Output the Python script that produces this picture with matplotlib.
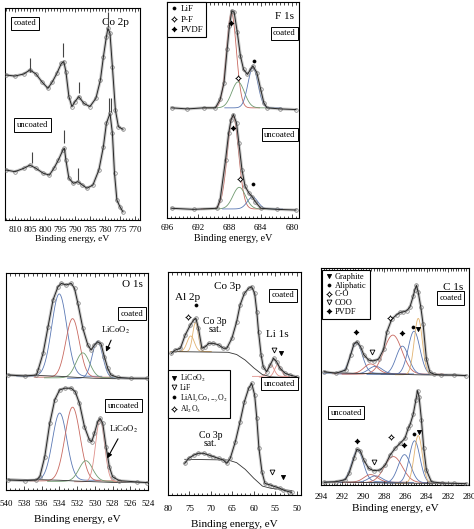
import numpy as np
import matplotlib
matplotlib.use('Agg')
import matplotlib.pyplot as plt
from matplotlib.lines import Line2D
from matplotlib.ticker import MultipleLocator, FormatStrFormatter

plt.rcParams['font.family'] = ['Liberation Serif', 'DejaVu Sans']
plt.rcParams['mathtext.fontset'] = 'stix'

# ---------------- data (intensity in a.u., 0-100 per panel) ----------------
# Co 2p
co2p_e_coated = [813, 810, 807, 805, 803, 801, 799, 797.5, 796, 794.5, 793.7, 793, 792, 791, 790,
                 788.7, 787, 785, 783, 781.5, 780.5, 779.5, 779, 778.3, 777.5, 776.5, 775.5, 774]
co2p_i_coated = [68.4, 67.9, 68.9, 70.8, 68.9, 65.2, 62.1, 65.2, 69.2, 73.9, 74.7, 70.0, 58.2, 53.5, 55.8,
                 58.2, 55.0, 53.5, 57.4, 66.0, 77.0, 86.5, 90.4, 88.0, 72.3, 51.9, 44.0, 42.8]
co2p_e_unc = [813, 810, 807, 805, 803, 800.5, 798.5, 797, 795.5, 794, 793.5, 793, 792, 790.5, 789,
              787.5, 786, 784, 782, 780.5, 779.5, 778.3, 777.5, 776.8, 776, 775, 774]
co2p_i_unc = [23.6, 22.8, 24.4, 25.9, 24.4, 22.0, 21.2, 24.4, 28.3, 33.0, 33.8, 28.3, 19.7, 17.3, 18.1,
              16.5, 15.0, 16.5, 23.6, 34.6, 45.6, 50.3, 40.9, 22.0, 9.4, 6.3, 3.9]
co2p_mark_e_coated = [805, 794.1, 788.7, 778.9]
co2p_mark_lo_coated = [70.0, 77.0, 59.8, 91.2]
co2p_mark_hi_coated = [76.3, 83.6, 65.2, 98.3]
co2p_mark_e_unc = [804.4, 793.6, 789.1, 778.6, 777.9]
co2p_mark_lo_unc = [26.7, 36.2, 18.9, 51.1, 51.1]
co2p_mark_hi_unc = [32.2, 42.5, 24.4, 57.4, 57.4]

# F 1s
f1s_e_coated = [695.4, 693.4, 691.3, 689.8, 689.2, 688.7, 688.3, 688.0, 687.7, 687.4, 687.0, 686.6,
                686.2, 685.7, 685.3, 685.0, 684.5, 684.0, 683.6, 683.2, 681.5, 679.5]
f1s_i_coated = [51.0, 50.5, 51.0, 51.0, 54.9, 62.6, 78.1, 89.0, 96.0, 95.2, 85.9, 75.0,
                68.8, 66.5, 68.8, 70.4, 67.3, 59.5, 53.3, 51.0, 50.5, 50.2]
f1s_e_unc = [695.4, 692.6, 689.6, 689.2, 688.5, 688.1, 687.8, 687.5, 687.1, 686.8, 686.4, 686.0,
             685.5, 685.1, 684.7, 684.0, 681.9, 679.5]
f1s_i_unc = [4.5, 4.0, 4.5, 8.4, 27.0, 39.4, 45.6, 47.9, 44.0, 34.7, 22.3, 14.6,
             11.5, 9.9, 7.6, 4.5, 4.0, 3.7]
# fitted components: PVDF, P-F, LiF
f1s_comp_center_coated = [687.75, 686.9, 685.0]
f1s_comp_amp_coated = [44, 12, 18.5]
f1s_comp_fwhm_coated = [1.5, 1.9, 1.5]
f1s_comp_base_coated = [51, 51, 51]
f1s_comp_center_unc = [687.55, 686.75, 685.05]
f1s_comp_amp_unc = [43, 10, 5.5]
f1s_comp_fwhm_unc = [1.7, 1.9, 1.6]
f1s_comp_base_unc = [4.2, 4.2, 4.2]
f1s_sym_e_coated = [687.75, 686.9, 684.9]
f1s_sym_i_coated = [90.5, 65.0, 72.7]
f1s_sym_e_unc = [687.5, 686.7, 685.0]
f1s_sym_i_unc = [41.7, 18.1, 15.7]

# O 1s
o1s_e_coated = [539.74, 537.87, 536.57, 536.38, 535.82, 535.26, 534.70, 534.14, 533.77, 533.21, 532.65,
                532.28, 531.90, 531.34, 530.78, 530.41, 530.04, 529.66, 529.29, 528.92, 528.54, 528.17,
                527.43, 525.93, 524.07]
o1s_i_coated = [53.0, 52.5, 53.0, 55.3, 63.0, 75.3, 87.6, 93.7, 95.2, 94.5, 95.2,
                92.9, 86.0, 74.5, 66.8, 64.5, 66.8, 68.3, 67.3, 61.4, 56.1, 53.0,
                51.9, 51.5, 51.5]
o1s_e_unc = [539.74, 537.87, 536.57, 536.19, 535.63, 535.07, 534.51, 533.96, 533.40, 532.65, 532.20,
             531.72, 531.16, 530.60, 530.34, 530.04, 529.66, 529.40, 529.10, 528.73, 528.36, 527.99,
             527.24, 525.19, 524.07]
o1s_i_unc = [4.6, 4.3, 4.6, 6.1, 15.4, 30.7, 41.5, 46.1, 46.9, 46.9, 45.3,
             39.9, 29.2, 23.0, 22.3, 26.1, 31.5, 33.0, 30.7, 20.0, 10.7, 6.1,
             4.3, 3.7, 3.4]
o1s_bg_e = [539.74, 536.5, 534, 532, 530, 528, 524.07]
o1s_bg_coated = [53.0, 52.8, 52.4, 51.9, 51.5, 51.3, 51.2]
o1s_bg_unc = [5.0, 4.8, 4.5, 4.1, 3.8, 3.5, 3.4]
o1s_comp_center_coated = [534.0, 532.5, 531.35, 529.7]
o1s_comp_amp_coated = [38, 27, 11.5, 17]
o1s_comp_fwhm_coated = [2.0, 1.8, 1.8, 1.4]
o1s_comp_base_coated = [52.4, 52.0, 51.7, 51.5]
o1s_comp_center_unc = [533.95, 532.5, 531.0, 529.4]
o1s_comp_amp_unc = [31, 34, 9.5, 28.5]
o1s_comp_fwhm_unc = [1.9, 2.0, 1.8, 1.2]
o1s_comp_base_unc = [4.5, 4.2, 4.0, 3.8]
o1s_arrow_tip_coated = (528.73, 63.7)
o1s_arrow_tip_unc = (528.59, 14.6)

# Co 3p / Al 2p / Li 1s
co3p_e_coated = [79.2, 78.3, 77.1, 76.0, 74.8, 74.0, 73.5, 72.9, 72.1, 71.3, 70.5, 69.4, 68.2, 67.1,
                 66.3, 65.1, 64.0, 63.2, 62.2, 61.2, 60.5, 59.8, 59.3, 58.9, 58.3, 57.8, 57.0, 56.2,
                 55.4, 54.7, 53.9, 52.7, 51.6, 50.0]
co3p_i_coated = [63.5, 65.0, 65.8, 71.7, 76.2, 78.5, 79.2, 74.7, 65.8, 66.5, 68.0, 68.0, 67.3, 65.8,
                 65.8, 70.3, 77.7, 85.2, 90.4, 92.7, 93.4, 90.4, 82.2, 73.2, 62.8, 57.5, 55.3, 58.3,
                 61.3, 59.8, 56.8, 54.6, 53.8, 53.0]
co3p_e_unc = [76.1, 75.2, 74.0, 72.9, 71.7, 70.5, 69.4, 68.2, 67.1, 66.3, 65.5, 64.3, 63.2, 62.2,
              61.2, 60.5, 59.8, 59.3, 58.8, 58.1, 57.4, 56.2, 55.0, 53.9, 53.1, 51.9, 51.2]
co3p_i_unc = [14.2, 16.4, 17.9, 18.7, 18.7, 17.9, 17.2, 16.4, 15.7, 14.2, 16.4, 23.9, 32.9, 41.8,
              47.8, 50.1, 44.8, 34.4, 20.9, 10.4, 5.2, 4.5, 3.7, 3.0, 2.2, 1.5, 1.2]
co3p_bg_e_coated = [79.2, 66, 64, 62, 60, 58, 56, 50]
co3p_bg_i_coated = [64.3, 64.0, 63.0, 60.5, 57.0, 54.0, 53.0, 52.5]
co3p_bg_e_unc = [76.1, 66, 64, 62, 60, 58, 56, 51.2]
co3p_bg_i_unc = [16.0, 15.7, 14.5, 11.5, 7.5, 4.0, 3.0, 2.0]
# components: Al2O3, LiAlCoO2, LiF, LiCoO2
co3p_comp_center = [74.7, 73.6, 56.0, 54.4]
co3p_comp_amp = [7, 13, 5, 5.5]
co3p_comp_fwhm = [2.0, 1.5, 1.8, 1.8]
co3p_comp_base = [64.3, 64.3, 53.2, 52.9]
co3p_sym_e_coated = [75.3, 73.4, 55.2, 53.7]
co3p_sym_i_coated = [80.0, 85.2, 65.0, 63.5]
co3p_sym_e_unc = [55.8, 53.1]
co3p_sym_i_unc = [10.5, 8.2]

# C 1s
c1s_e_coated = [293.69, 292.6, 291.66, 291.2, 290.88, 290.6, 290.26, 289.95, 289.48, 289.02, 288.55,
                288.08, 287.77, 287.3, 286.83, 286.52, 286.21, 285.9, 285.59, 285.28, 285.12, 284.97,
                284.81, 284.56, 284.34, 284.03, 283.7, 283.3, 282.63, 281.38, 280.29]
c1s_i_coated = [52.2, 51.5, 53.0, 59.9, 65.0, 66.0, 63.7, 60.0, 57.5, 57.2, 58.0,
                62.5, 70.5, 76.5, 78.5, 79.5, 79.8, 80.3, 82.0, 87.0, 90.0, 92.0,
                89.0, 82.0, 74.0, 58.0, 52.0, 51.0, 50.7, 50.7, 50.4]
c1s_e_unc = [293.7, 292.6, 291.7, 291.35, 290.89, 290.6, 290.3, 289.95, 289.49, 289.02, 288.4,
             287.93, 287.46, 286.99, 286.52, 286.06, 285.75, 285.59, 285.28, 285.03, 284.87, 284.72,
             284.5, 284.28, 284.03, 283.56, 282.6, 281.4, 280.3]
c1s_i_unc = [1.2, 1.5, 2.5, 5.4, 12.3, 16.5, 15.8, 11.5, 7.7, 6.6, 6.9,
             9.2, 13.8, 16.9, 19.2, 21.5, 26.1, 27.6, 32.5, 39.0, 43.5, 40.5,
             30.0, 16.9, 6.9, 1.5, 0.9, 0.8, 0.6]
c1s_bg_e = [293.7, 291, 288, 285, 280.3]
c1s_bg_coated = [52.0, 51.5, 51.2, 50.8, 50.5]
c1s_bg_unc = [1.5, 1.3, 1.0, 0.8, 0.6]
# components: PVDF(CF2), COO, COO', C-O, PVDF(CH2), aliphatic, graphite
c1s_comp_center_coated = [290.65, 289.3, 288.85, 287.2, 286.3, 285.2, 284.8]
c1s_comp_amp_coated = [14, 4.5, 3.5, 18, 13, 20, 26]
c1s_comp_fwhm_coated = [1.3, 1.5, 1.5, 2.0, 1.4, 1.3, 0.9]
c1s_comp_base_coated = [51.5, 51.3, 51.2, 51.1, 51.0, 50.9, 50.8]
c1s_comp_center_unc = [290.55, 289.3, 288.85, 287.15, 286.1, 285.15, 284.8]
c1s_comp_amp_unc = [14.5, 3.5, 3.0, 12, 13, 19.5, 22]
c1s_comp_fwhm_unc = [1.3, 1.5, 1.5, 2.0, 1.4, 1.2, 0.9]
c1s_comp_base_unc = [1.5, 1.3, 1.2, 1.1, 1.0, 0.9, 0.8]
# symbols: PVDF, COO, C-O, PVDF, aliphatic, graphite
c1s_sym_e_coated = [290.73, 289.17, 287.5, 286.37, 285.28, 284.78]
c1s_sym_i_coated = [70.5, 61.5, 77.0, 70.0, 73.0, 72.0]
c1s_sym_e_unc = [290.6, 289.0, 287.4, 286.15, 285.2, 284.72]
c1s_sym_i_unc = [20.5, 10.8, 22.0, 18.5, 23.5, 24.5]

# ---------------- styles ----------------
BLUE, RED, GREEN, ORANGE, PINK = '#5a78b4', '#c8685f', '#6f9a6f', '#e2b26e', '#e0908a'
SYM = {
    'dot': dict(marker='o', ms=2.2, mfc='k', mec='k', mew=0.5),
    'ostar': dict(marker=(4, 1, 0), ms=4.0, mfc='white', mec='k', mew=0.6),
    'star': dict(marker=(4, 1, 0), ms=3.6, mfc='k', mec='k', mew=0.6),
    'vfill': dict(marker='v', ms=3.0, mfc='k', mec='k', mew=0.6),
    'vopen': dict(marker='v', ms=3.5, mfc='white', mec='k', mew=0.6),
}

W, H = 474, 529
fig = plt.figure(figsize=(W / 100, H / 100), dpi=100)


def panel(l, t, r, b, xlim, major, minor, labsize, tpad, labpad):
    ax = fig.add_axes([l / W, 1 - b / H, (r - l) / W, (b - t) / H])
    ax.set_xlim(*xlim)
    ax.set_ylim(0, 100)
    ax.set_yticks([])
    ax.xaxis.set_major_locator(MultipleLocator(major))
    ax.xaxis.set_minor_locator(MultipleLocator(minor))
    ax.xaxis.set_major_formatter(FormatStrFormatter('%d'))
    ax.tick_params(axis='x', which='both', direction='in', top=True, bottom=True,
                   width=0.5, labelsize=6.4, pad=tpad)
    ax.tick_params(axis='x', which='major', length=3)
    ax.tick_params(axis='x', which='minor', length=1.8)
    for s in ax.spines.values():
        s.set_linewidth(0.8)
    ax.set_xlabel('Binding energy, eV', fontsize=labsize, labelpad=labpad)
    return ax


def spectrum(ax, e, i):
    ax.plot(e, i, color='#a8a8a8', lw=2.2, alpha=0.6, zorder=2)
    ax.plot(e, i, ls='none', marker='o', ms=2.6, mfc='none', mec='#7a7a7a', mew=0.5, zorder=3)
    ax.plot(e, i, color='#262626', lw=0.7, zorder=4)


def components(ax, centers, amps, fwhms, bases, colors):
    for c, a, w, b, col in zip(centers, amps, fwhms, bases, colors):
        s = w / 2.3548
        e = np.linspace(c - 2.4 * w, c + 2.4 * w, 90)
        ax.plot(e, b + a * np.exp(-0.5 * ((e - c) / s) ** 2), color=col, lw=0.6, zorder=1.5)


def symbols(ax, es, ins, kinds):
    for e, i, k in zip(es, ins, kinds):
        ax.plot(e, i, ls='none', zorder=6, **SYM[k])


def tag(ax, x, y, s, fs=6.2):
    ax.text(x, y, s, transform=ax.transAxes, ha='center', va='center', fontsize=fs, zorder=7,
            bbox=dict(boxstyle='square,pad=0.3', fc='white', ec='k', lw=0.7))


def legend(ax, kinds, labels, anchor, fs, spacing):
    handles = [Line2D([], [], ls='none', label=lab, **SYM[k]) for k, lab in zip(kinds, labels)]
    lg = ax.legend(handles=handles, loc='upper left', bbox_to_anchor=anchor, fontsize=fs,
                   frameon=True, fancybox=False, edgecolor='k', framealpha=1,
                   handlelength=0.8, handletextpad=0.35, borderpad=0.35, labelspacing=spacing,
                   borderaxespad=0)
    lg.get_frame().set_linewidth(0.8)
    lg.set_zorder(8)


# ---------------- Co 2p ----------------
ax1 = panel(5, 8, 140, 220, (813.3, 768.3), 5, 1, 6.8, 4.5, 0.5)
spectrum(ax1, co2p_e_coated, co2p_i_coated)
spectrum(ax1, co2p_e_unc, co2p_i_unc)
ax1.vlines(co2p_mark_e_coated, co2p_mark_lo_coated, co2p_mark_hi_coated, color='#444', lw=0.8, zorder=5)
ax1.vlines(co2p_mark_e_unc, co2p_mark_lo_unc, co2p_mark_hi_unc, color='#444', lw=0.8, zorder=5)
tag(ax1, 0.15, 0.927, 'coated')
tag(ax1, 0.205, 0.448, 'uncoated')
ax1.text(0.82, 0.93, 'Co 2p', transform=ax1.transAxes, ha='center', va='center', fontsize=8)

# ---------------- F 1s ----------------
ax2 = panel(167, 2, 299, 218, (696, 679.1), 4, 0.5, 7.2, 4.5, 1.5)
components(ax2, f1s_comp_center_coated, f1s_comp_amp_coated, f1s_comp_fwhm_coated,
           f1s_comp_base_coated, [RED, GREEN, BLUE])
components(ax2, f1s_comp_center_unc, f1s_comp_amp_unc, f1s_comp_fwhm_unc,
           f1s_comp_base_unc, [RED, GREEN, BLUE])
spectrum(ax2, f1s_e_coated, f1s_i_coated)
spectrum(ax2, f1s_e_unc, f1s_i_unc)
symbols(ax2, f1s_sym_e_coated, f1s_sym_i_coated, ['star', 'ostar', 'dot'])
symbols(ax2, f1s_sym_e_unc, f1s_sym_i_unc, ['star', 'ostar', 'dot'])
legend(ax2, ['dot', 'ostar', 'star'], ['LiF', 'P-F', 'PVDF'], (0.0, 1.0), 6.4, 0.25)
ax2.text(0.96, 0.935, 'F 1s', transform=ax2.transAxes, ha='right', va='center', fontsize=8)
tag(ax2, 0.89, 0.855, 'coated')
tag(ax2, 0.856, 0.386, 'uncoated')

# ---------------- O 1s ----------------
ax3 = panel(6, 273, 148, 490, (540, 524), 2, 0.5, 8, 7.5, 5)
components(ax3, o1s_comp_center_coated, o1s_comp_amp_coated, o1s_comp_fwhm_coated,
           o1s_comp_base_coated, [BLUE, RED, GREEN, BLUE])
components(ax3, o1s_comp_center_unc, o1s_comp_amp_unc, o1s_comp_fwhm_unc,
           o1s_comp_base_unc, [BLUE, RED, GREEN, PINK])
ax3.plot(o1s_bg_e, o1s_bg_coated, color='#333', lw=0.6, zorder=1.6)
ax3.plot(o1s_bg_e, o1s_bg_unc, color='#333', lw=0.6, zorder=1.6)
spectrum(ax3, o1s_e_coated, o1s_i_coated)
spectrum(ax3, o1s_e_unc, o1s_i_unc)
ax3.text(0.965, 0.945, 'O 1s', transform=ax3.transAxes, ha='right', va='center', fontsize=8)
tag(ax3, 0.885, 0.813, 'coated')
tag(ax3, 0.826, 0.388, 'uncoated')
arrow = dict(arrowstyle='-|>', color='k', lw=0.8, mutation_scale=7, shrinkA=1, shrinkB=0)
ax3.annotate('LiCoO$_2$', xy=o1s_arrow_tip_coated, xytext=(0.77, 0.735), textcoords='axes fraction',
             ha='center', va='center', fontsize=6.2, arrowprops=arrow, zorder=7)
ax3.annotate('LiCoO$_2$', xy=o1s_arrow_tip_unc, xytext=(0.826, 0.28), textcoords='axes fraction',
             ha='center', va='center', fontsize=6.2, arrowprops=arrow, zorder=7)

# ---------------- Co 3p ----------------
ax4 = panel(168, 272, 301, 495, (80, 49), 5, 1, 8, 7.5, 5)
components(ax4, co3p_comp_center, co3p_comp_amp, co3p_comp_fwhm, co3p_comp_base,
           [ORANGE, ORANGE, PINK, PINK])
ax4.plot(co3p_bg_e_coated, co3p_bg_i_coated, color='#333', lw=0.6, zorder=1.6)
ax4.plot(co3p_bg_e_unc, co3p_bg_i_unc, color='#333', lw=0.6, zorder=1.6)
spectrum(ax4, co3p_e_coated, co3p_i_coated)
spectrum(ax4, co3p_e_unc, co3p_i_unc)
symbols(ax4, co3p_sym_e_coated, co3p_sym_i_coated, ['ostar', 'dot', 'vopen', 'vfill'])
symbols(ax4, co3p_sym_e_unc, co3p_sym_i_unc, ['vopen', 'vfill'])
ax4.text(0.15, 0.885, 'Al 2p', transform=ax4.transAxes, ha='center', va='center', fontsize=8)
ax4.text(0.45, 0.935, 'Co 3p', transform=ax4.transAxes, ha='center', va='center', fontsize=8)
ax4.text(0.355, 0.76, 'Co 3p\nsat.', transform=ax4.transAxes, ha='center', va='center',
         fontsize=7, linespacing=0.85)
ax4.text(0.82, 0.72, 'Li 1s', transform=ax4.transAxes, ha='center', va='center', fontsize=8)
ax4.text(0.32, 0.25, 'Co 3p\nsat.', transform=ax4.transAxes, ha='center', va='center',
         fontsize=7, linespacing=0.85)
tag(ax4, 0.865, 0.895, 'coated')
tag(ax4, 0.84, 0.50, 'uncoated')
legend(ax4, ['vfill', 'vopen', 'dot', 'ostar'],
       ['LiCoO$_2$', 'LiF', 'LiAl$_y$Co$_{1-y}$O$_2$', 'Al$_2$O$_3$'], (0.0, 0.56), 5.6, 0.0)

# ---------------- C 1s ----------------
ax5 = panel(321, 268, 469, 485, (294, 280), 2, 0.25, 8, 6, 2)
cols = [BLUE, RED, BLUE, RED, BLUE, BLUE, ORANGE]
components(ax5, c1s_comp_center_coated, c1s_comp_amp_coated, c1s_comp_fwhm_coated,
           c1s_comp_base_coated, cols)
components(ax5, c1s_comp_center_unc, c1s_comp_amp_unc, c1s_comp_fwhm_unc,
           c1s_comp_base_unc, cols)
ax5.plot(c1s_bg_e, c1s_bg_coated, color='#333', lw=0.6, zorder=1.6)
ax5.plot(c1s_bg_e, c1s_bg_unc, color='#333', lw=0.6, zorder=1.6)
spectrum(ax5, c1s_e_coated, c1s_i_coated)
spectrum(ax5, c1s_e_unc, c1s_i_unc)
kinds = ['star', 'vopen', 'ostar', 'star', 'dot', 'vfill']
symbols(ax5, c1s_sym_e_coated, c1s_sym_i_coated, kinds)
symbols(ax5, c1s_sym_e_unc, c1s_sym_i_unc, kinds)
legend(ax5, ['vfill', 'dot', 'ostar', 'vopen', 'star'],
       ['Graphite', 'Aliphatic', 'C-O', 'COO', 'PVDF'], (0.01, 0.99), 6.0, 0.08)
ax5.text(0.89, 0.912, 'C 1s', transform=ax5.transAxes, ha='center', va='center', fontsize=8)
tag(ax5, 0.875, 0.862, 'coated')
tag(ax5, 0.17, 0.334, 'uncoated')

fig.savefig('out.png', dpi=100)
